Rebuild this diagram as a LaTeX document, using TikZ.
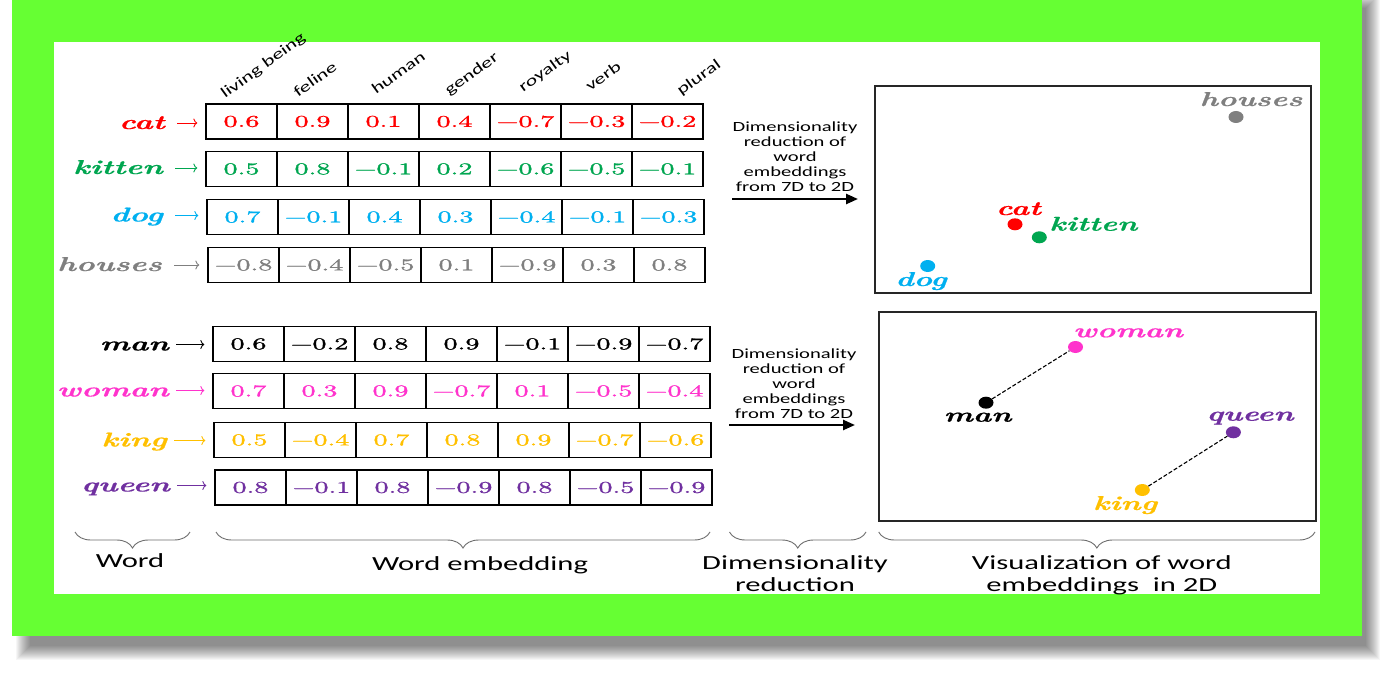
\documentclass[tikz,border=0pt]{standalone}
\usepackage{fontspec}
\newfontfamily\calfont{Carlito}
\newfontfamily\numfont[FakeBold=1.2]{Latin Modern Math}
\newfontfamily\wfont[FakeBold=0.6]{Latin Modern Roman}
\usetikzlibrary{arrows.meta,shapes.geometric,decorations.pathreplacing}
\definecolor{frameg}{RGB}{102,255,51}
\definecolor{cRed}{RGB}{255,0,0}
\definecolor{cGreen}{RGB}{0,166,80}
\definecolor{cBlue}{RGB}{0,176,240}
\definecolor{cGray}{RGB}{127,127,127}
\definecolor{cPink}{RGB}{255,51,204}
\definecolor{cGold}{RGB}{255,192,0}
\definecolor{cPurple}{RGB}{112,48,160}
\definecolor{bracegray}{RGB}{110,110,110}
\newcommand\sx[2]{\scalebox{#1}[1]{#2}}
\newcommand\embrow[5]{%
  \foreach \v [count=\i] in {#5} {
    \node[cell, text=#4] (#1-\i) at ({#2+35.5+71*(\i-1)}, #3) {\sx{1.7}{\v}};
  }}
\begin{document}
\begin{tikzpicture}[x=1pt,y=-1pt,
  cell/.style={draw=black, line width=1.3pt, minimum width=71pt, minimum height=35pt, inner sep=0pt, font=\numfont\fontsize{16.5}{16.5}\selectfont},
  wlab/.style={inner sep=0pt, anchor=base east, font=\wfont\fontsize{20}{20}\selectfont\bfseries\itshape},
  warr/.style={line width=0.9pt, -{To[length=4pt,width=9pt]}, shorten <=12pt, shorten >=8pt},
  warrb/.style={warr, shorten <=7pt},
  hdr/.style={inner sep=0pt, anchor=base west, rotate=36, font=\calfont\fontsize{15}{15}\selectfont},
  midtxt/.style={inner sep=0pt, anchor=north, font=\calfont\fontsize{14}{15}\selectfont},
  bigarr/.style={line width=2.4pt, -{Triangle[length=12pt,width=10pt]}},
  plotbox/.style={draw=black!85, line width=1.4pt},
  pdot/.style={ellipse, minimum width=15pt, minimum height=12pt, inner sep=0pt},
  plab/.style={inner sep=0pt, anchor=base, font=\wfont\fontsize{20}{20}\selectfont\bfseries\itshape},
  dline/.style={line width=1.1pt, dash pattern=on 4pt off 2pt},
  brc/.style={draw=bracegray, line width=0.9pt, decorate, decoration={brace, mirror, amplitude=16pt}},
  blab/.style={inner sep=0pt, anchor=north, font=\calfont\fontsize{20}{22}\selectfont},
]
\useasboundingbox (0,0) rectangle (1400,674);
\fill[white] (0,0) rectangle (1400,674);
% shadow
\foreach \r in {0,...,14}
  \fill[black, opacity=0.035] ({16+\r},{-6+\r}) rectangle ({1380-\r},{660-\r});
% frame
\fill[frameg] (12,0) rectangle (1362,636);
\fill[white] (54,42) rectangle (1320,594);

% headers
\node[hdr] (h1) at (225,99) {\sx{1.45}{living being}};
\node[hdr] (h2) at (298,98) {\sx{1.45}{feline}};
\node[hdr] (h3) at (376,95) {\sx{1.45}{human}};
\node[hdr] (h4) at (449,96) {\sx{1.45}{gender}};
\node[hdr] (h5) at (523,93) {\sx{1.45}{royalty}};
\node[hdr] (h6) at (590,92) {\sx{1.45}{verb}};
\node[hdr] (h7) at (681,96) {\sx{1.45}{plural}};

% embedding rows
\embrow{cat}{206}{121.5}{cRed}{0.6,0.9,0.1,0.4,−0.7,−0.3,−0.2}
\embrow{kit}{206}{169}{cGreen}{0.5,0.8,−0.1,0.2,−0.6,−0.5,−0.1}
\embrow{dog}{207}{217}{cBlue}{0.7,−0.1,0.4,0.3,−0.4,−0.1,−0.3}
\embrow{hou}{208}{265}{cGray}{−0.8,−0.4,−0.5,0.1,−0.9,0.3,0.8}
\embrow{man}{213}{344}{black}{0.6,−0.2,0.8,0.9,−0.1,−0.9,−0.7}
\embrow{wom}{213}{391}{cPink}{0.7,0.3,0.9,−0.7,0.1,−0.5,−0.4}
\embrow{kin}{214}{440}{cGold}{0.5,−0.4,0.7,0.8,0.9,−0.7,−0.6}
\embrow{que}{215}{487.5}{cPurple}{0.8,−0.1,0.8,−0.9,0.8,−0.5,−0.9}

% word labels
\node[wlab, text=cRed] (wcat) at (165,129) {\sx{1.58}{cat}};
\node[wlab, text=cGreen] (wkit) at (163,174) {\sx{1.58}{kitten}};
\node[wlab, text=cBlue] (wdog) at (163,221.5) {\sx{1.58}{dog}};
\node[wlab, text=cGray] (whou) at (162,271) {\sx{1.58}{houses}};
\node[wlab, text=black] (wman) at (169,350.5) {\sx{1.58}{man}};
\node[wlab, text=cPink] (wwom) at (169,396.5) {\sx{1.58}{woman}};
\node[wlab, text=cGold] (wkin) at (167,446.5) {\sx{1.58}{king}};
\node[wlab, text=cPurple] (wque) at (170,491.5) {\sx{1.58}{queen}};

\foreach \w/\c/\col in {cat/cat/cRed, kit/kit/cGreen, dog/dog/cBlue, hou/hou/cGray}{
  \coordinate (a\w) at ([yshift=6pt]w\w.base east);
  \draw[warr, \col] (a\w) -- (a\w -| \c-1.west);
}
\foreach \w/\c/\col in {man/man/black, wom/wom/cPink, kin/kin/cGold, que/que/cPurple}{
  \coordinate (a\w) at ([yshift=6pt]w\w.base east);
  \draw[warrb, \col] (a\w) -- (a\w -| \c-1.west);
}

% dimensionality reduction texts and arrows
\node[midtxt] (dr1) at (795,121.2) {\sx{1.47}{\begin{tabular}{@{}c@{}}Dimensionality\\reduction of\\word\\embeddings\\from 7D to 2D\end{tabular}}};
\node[midtxt] (dr2) at (794,347.8) {\sx{1.47}{\begin{tabular}{@{}c@{}}Dimensionality\\reduction of\\word\\embeddings\\from 7D to 2D\end{tabular}}};
\coordinate (r1s) at (732,199);
\coordinate (r1e) at (858,199);
\coordinate (r2s) at (729,425);
\coordinate (r2e) at (855,425);
\draw[bigarr] (r1s) -- (r1e);
\draw[bigarr] (r2s) -- (r2e);

% plot 1
\draw[plotbox] (875,86) rectangle (1311,293);
\node[pdot, fill=cGray] (phou) at (1236,117) {};
\node[plab, text=cGray] (lhou) at (1251,106) {\sx{1.55}{houses}};
\node[pdot, fill=cRed] (pcat) at (1015,224.3) {};
\node[plab, text=cRed] (lcat) at (1018.5,215) {\sx{1.55}{cat}};
\node[pdot, fill=cGreen] (pkit) at (1039.3,237.3) {};
\node[plab, anchor=base west, text=cGreen] (lkit) at (1049,230.7) {\sx{1.55}{kitten}};
\node[pdot, fill=cBlue] (pdog) at (927.7,266) {};
\node[plab, text=cBlue] (ldog) at (921,286) {\sx{1.55}{dog}};

% plot 2
\draw[plotbox] (879,312) rectangle (1316,521);
\node[pdot, fill=cPink] (pwom) at (1075.5,347) {};
\node[plab, text=cPink] (lwom) at (1128,337.3) {\sx{1.55}{woman}};
\node[pdot, fill=black] (pman) at (986,402.7) {};
\node[plab, text=black] (lman) at (977.5,421.7) {\sx{1.55}{man}};
\node[pdot, fill=cPurple] (pque) at (1233.4,432.3) {};
\node[plab, text=cPurple] (lque) at (1250,420.7) {\sx{1.55}{queen}};
\node[pdot, fill=cGold] (pkin) at (1142.3,490) {};
\node[plab, text=cGold] (lkin) at (1125,510) {\sx{1.55}{king}};
\draw[dline] (pman) -- (pwom);
\draw[dline] (pkin) -- (pque);

% braces
\draw[brc] (75,532) -- (190,532);
\draw[brc] (216,532) -- (710,532);
\draw[brc] (729.5,532) -- (866,532);
\draw[brc] (878.7,532) -- (1315,532);
\node[blab] (bword) at (130,553.6) {\sx{1.53}{Word}};
\node[blab] (bemb) at (480,556.6) {\sx{1.53}{Word embedding}};
\node[blab] (bdim) at (795,553.6) {\sx{1.53}{\begin{tabular}{@{}c@{}}Dimensionality\\reduction\end{tabular}}};
\node[blab] (bvis) at (1101.8,553.6) {\sx{1.53}{\begin{tabular}{@{}c@{}}Visualization of word\\embeddings~~in 2D\end{tabular}}};
\end{tikzpicture}
\end{document}
